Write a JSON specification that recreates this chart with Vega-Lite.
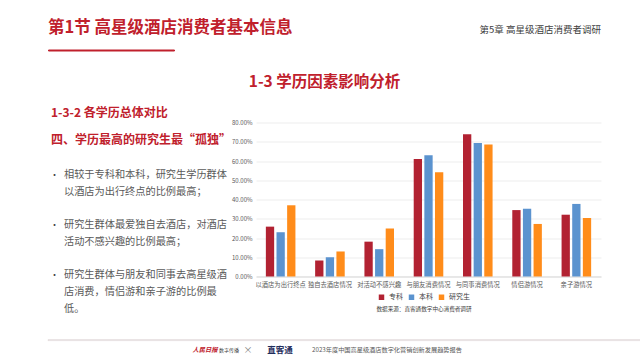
{
  "$schema": "https://vega.github.io/schema/vega-lite/v6.json",
  "padding": {"left": 47, "top": 19.5, "right": 0, "bottom": 0},
  "background": "white",
  "spacing": 19,
  "resolve": {"scale": {"color": "independent"}, "legend": {"color": "independent"}},
  "config": {
    "view": {"stroke": null},
    "font": "Noto Sans CJK SC",
    "title": {"font": "Noto Sans CJK SC"},
    "axis": {"labelFont": "Noto Sans CJK SC"},
    "legend": {"labelFont": "Noto Sans CJK SC", "titleFont": "Noto Sans CJK SC"}
  },
  "vconcat": [
    {
      "bounds": "flush",
      "spacing": 10,
      "hconcat": [
        {
          "width": 126,
          "height": 1,
          "view": {"stroke": "#C0202C", "strokeWidth": 1, "fill": "#C0202C"},
          "title": {"text": "第1节 高星级酒店消费者基本信息", "anchor": "start", "fontSize": 16.5, "fontWeight": "bold", "color": "#C0202C", "offset": 7.5},
          "data": {"values": [{"t": ""}]},
          "mark": {"type": "text", "opacity": 0},
          "encoding": {"text": {"field": "t"}}
        },
        {
          "width": 417,
          "height": 1,
          "title": {"text": "第5章 高星级酒店消费者调研", "anchor": "end", "fontSize": 9.5, "fontWeight": "normal", "color": "#404040", "offset": 10},
          "data": {"values": [{"t": ""}]},
          "mark": {"type": "text", "opacity": 0},
          "encoding": {"text": {"field": "t"}}
        }
      ]
    },
    {
      "bounds": "flush",
      "spacing": 198,
      "resolve": {"scale": {"color": "independent"}, "legend": {"color": "independent"}},
      "title": {"text": "1-3 学历因素影响分析", "anchor": "middle", "fontSize": 15.5, "fontWeight": "bold", "color": "#C0202C", "offset": 16.5},
      "hconcat": [
        {
          "width": 10,
          "height": 197,
          "title": {"text": "1-3-2 各学历总体对比", "subtitle": "四、学历最高的研究生最“孤独”", "anchor": "start", "dx": 3, "fontSize": 12, "fontWeight": "bold", "color": "#C0202C", "subtitleFontSize": 12, "subtitleFontWeight": "bold", "subtitleColor": "#C0202C", "subtitlePadding": 14.5, "offset": -24},
          "data": {"values": [
            {"grp": 1, "ln": 1, "text": "相较于专科和本科，研究生学历群体"},
            {"grp": 1, "ln": 2, "text": "以酒店为出行终点的比例最高；"},
            {"grp": 2, "ln": 1, "text": "研究生群体最爱独自去酒店，对酒店"},
            {"grp": 2, "ln": 2, "text": "活动不感兴趣的比例最高；"},
            {"grp": 3, "ln": 1, "text": "研究生群体与朋友和同事去高星级酒"},
            {"grp": 3, "ln": 2, "text": "店消费，情侣游和亲子游的比例最"},
            {"grp": 3, "ln": 3, "text": "低。"}
          ]},
          "encoding": {
            "y": {"field": "grp", "type": "ordinal", "axis": null, "scale": {"paddingInner": 0, "paddingOuter": 0.47, "align": 0.957}},
            "yOffset": {"field": "ln", "type": "ordinal", "scale": {"type": "point", "padding": 0.47}}
          },
          "layer": [
            {
              "mark": {"type": "text", "align": "left", "baseline": "middle", "dx": 11, "fontSize": 10.2, "color": "#595959"},
              "encoding": {"text": {"field": "text"}}
            },
            {
              "transform": [{"filter": "datum.ln == 1"}],
              "mark": {"type": "text", "align": "left", "baseline": "middle", "dx": -3, "fontSize": 9, "color": "#404040"},
              "encoding": {"text": {"value": "•"}}
            }
          ]
        },
        {
          "width": 345,
          "height": 154,
          "data": {"values": [
            {"cat": "以酒店为出行终点", "edu": "专科", "v": 0.259},
            {"cat": "以酒店为出行终点", "edu": "本科", "v": 0.230},
            {"cat": "以酒店为出行终点", "edu": "研究生", "v": 0.370},
            {"cat": "独自去酒店情况", "edu": "专科", "v": 0.083},
            {"cat": "独自去酒店情况", "edu": "本科", "v": 0.100},
            {"cat": "独自去酒店情况", "edu": "研究生", "v": 0.130},
            {"cat": "对活动不感兴趣", "edu": "专科", "v": 0.181},
            {"cat": "对活动不感兴趣", "edu": "本科", "v": 0.142},
            {"cat": "对活动不感兴趣", "edu": "研究生", "v": 0.250},
            {"cat": "与朋友消费情况", "edu": "专科", "v": 0.611},
            {"cat": "与朋友消费情况", "edu": "本科", "v": 0.630},
            {"cat": "与朋友消费情况", "edu": "研究生", "v": 0.542},
            {"cat": "与同事消费情况", "edu": "专科", "v": 0.739},
            {"cat": "与同事消费情况", "edu": "本科", "v": 0.694},
            {"cat": "与同事消费情况", "edu": "研究生", "v": 0.686},
            {"cat": "情侣游情况", "edu": "专科", "v": 0.345},
            {"cat": "情侣游情况", "edu": "本科", "v": 0.352},
            {"cat": "情侣游情况", "edu": "研究生", "v": 0.273},
            {"cat": "亲子游情况", "edu": "专科", "v": 0.321},
            {"cat": "亲子游情况", "edu": "本科", "v": 0.377},
            {"cat": "亲子游情况", "edu": "研究生", "v": 0.304}
          ]},
          "mark": {"type": "bar"},
          "encoding": {
            "x": {"field": "cat", "type": "nominal", "sort": null,
              "scale": {"paddingInner": 0.4, "paddingOuter": 0.2},
              "axis": {"title": null, "labelAngle": 0, "labelFontSize": 6.3, "labelColor": "#595959", "ticks": false, "domainColor": "#d9d9d9", "labelPadding": 5, "labelOverlap": false}},
            "xOffset": {"field": "edu", "type": "nominal", "sort": ["专科", "本科", "研究生"], "scale": {"paddingInner": 0.22}},
            "y": {"field": "v", "type": "quantitative",
              "scale": {"domain": [0, 0.8]},
              "axis": {"title": null, "format": ".2%", "values": [0, 0.1, 0.2, 0.3, 0.4, 0.5, 0.6, 0.7, 0.8], "labelFontSize": 6, "labelColor": "#595959", "gridColor": "#ededed", "domain": false, "ticks": false, "labelPadding": 4}},
            "color": {"field": "edu", "type": "nominal",
              "scale": {"domain": ["专科", "本科", "研究生"], "range": ["#B22232", "#5B93CF", "#FF8C1A"]},
              "legend": {"orient": "none", "legendX": 120, "legendY": 171, "direction": "horizontal", "title": "数据来源：直客通数字中心消费者调研", "titleOrient": "bottom", "titleAnchor": "middle", "titleFontSize": 5.6, "titleFontWeight": "normal", "titleColor": "#404040", "titlePadding": 6, "symbolType": "square", "symbolSize": 30, "labelFontSize": 7, "labelColor": "#404040", "columnPadding": 5}}
          }
        }
      ]
    },
    {
      "width": 593,
      "height": 1,
      "view": {"stroke": "#d6cccf", "strokeWidth": 0.6},
      "data": {"values": [{"report": "2023年度中国高星级酒店数字化营销创新发展趋势报告", "logoA": "人民日报", "logoB": "数字传播", "logoX": "×", "logoC": "直客通"}]},
      "layer": [
        {"mark": {"type": "text", "fontSize": 6.2, "color": "#595959", "dx": 42.5, "dy": 10}, "encoding": {"text": {"field": "report"}}},
        {"mark": {"type": "text", "fontSize": 6.3, "fontWeight": "bold", "fontStyle": "italic", "color": "#C0202C", "dx": -139.5, "dy": 10}, "encoding": {"text": {"field": "logoA"}}},
        {"mark": {"type": "text", "fontSize": 5, "color": "#404040", "dx": -115.5, "dy": 10}, "encoding": {"text": {"field": "logoB"}}},
        {"mark": {"type": "text", "fontSize": 9, "color": "#808080", "dx": -96.5, "dy": 10}, "encoding": {"text": {"field": "logoX"}}},
        {"mark": {"type": "text", "fontSize": 8.5, "fontWeight": "bold", "color": "#1F2D5C", "dx": -64.5, "dy": 10}, "encoding": {"text": {"field": "logoC"}}}
      ]
    }
  ]
}
